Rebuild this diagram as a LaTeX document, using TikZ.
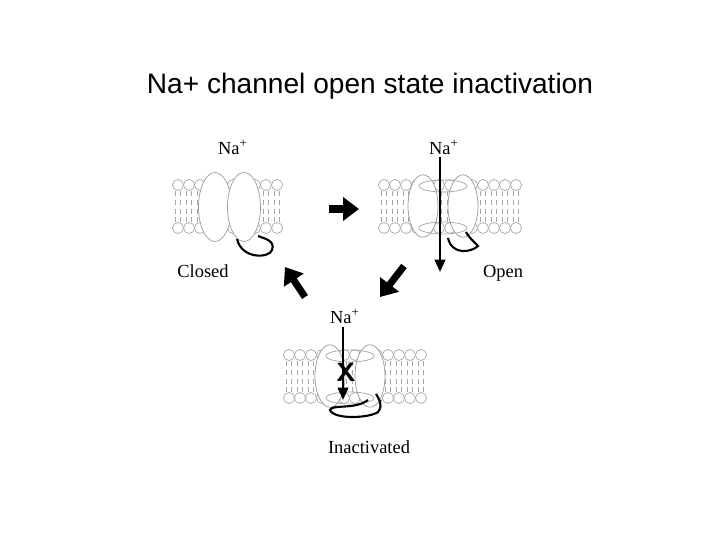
\documentclass[tikz,border=0pt]{standalone}
\usepackage{fontspec}
\setmainfont{Liberation Serif}
\newfontfamily\titlefont{Liberation Sans}
\usetikzlibrary{positioning}
\usetikzlibrary{arrows.meta}
\usetikzlibrary{shapes}
\tikzset{
  lbl/.style={font=\fontsize{10.5}{12}\selectfont},
  head/.style={draw=gray!70,fill=white,thin},
  tail/.style={draw=gray!70,densely dashed,very thin},
  half/.style={ellipse,draw=gray!80,fill=white,thin,minimum width=0.6cm,minimum height=1.25cm},
  gate/.style={line width=1.2pt,black},
  trans/.style={line width=4pt,-{Triangle[length=9pt,width=13pt]}},
  flux/.style={line width=1.3pt,-{Triangle[length=7pt,width=6pt]}}
}
\newcommand{\bilayer}[3]{% x0, x1, y of upper heads
  \pgfmathsetmacro{\nb}{int((#2-#1)/11)}
  \foreach \i in {0,...,\nb}{
    \pgfmathsetmacro{\hx}{#1+11*\i}
    \draw[tail] (\hx-2.5,#3+6) -- (\hx-2.5,#3+37) (\hx+2.5,#3+6) -- (\hx+2.5,#3+37);
    \draw[head] (\hx,#3) circle [radius=5.5];
    \draw[head] (\hx,#3+43) circle [radius=5.5];
  }
}
\begin{document}
\begin{tikzpicture}[x=0.02cm,y=-0.02cm]
\useasboundingbox (0,0) rectangle (720,540);

\node (title) at (370,86) {\titlefont\fontsize{16}{19}\selectfont Na+ channel open state inactivation};

% closed
\bilayer{178}{286}{185}
\node[half,minimum width=0.66cm,minimum height=1.38cm] (cl) at (215,207) {};
\node[half,minimum width=0.66cm,minimum height=1.38cm] (cr) at (244,207) {};
\draw[gate] (237,239) .. controls (242,260) and (270,258) .. (272,250) .. controls (276,240) and (262,238) .. (258,236);
\node[lbl] (naA) at (233,147) {Na\textsuperscript{+}};
\node[lbl] (closed) at (203,271) {Closed};

% open
\bilayer{384}{518}{185}
\node[half] (ol) at (423,206) {};
\node[half] (or) at (463,206) {};
\draw[gray!70,thin] (443,186) ellipse [x radius=24,y radius=6];
\draw[gray!70,thin] (443,228) ellipse [x radius=24,y radius=6];
\draw[gate] (448,238) .. controls (452,256) and (472,252) .. (478,246) .. controls (472,240) and (468,236) .. (466,232);
\node[lbl] (naB) at (444,147) {Na\textsuperscript{+}};
\coordinate (fbTop) at (440,157);
\coordinate (fbBot) at (440,272);
\draw[flux] (fbTop) -- (fbBot);
\node[lbl] (open) at (503,273) {Open};

% inactivated
\bilayer{289}{423}{355}
\node[half] (il) at (330,376) {};
\node[half] (ir) at (370,376) {};
\draw[gray!70,thin] (350,356) ellipse [x radius=24,y radius=6];
\draw[gray!70,thin] (350,398) ellipse [x radius=24,y radius=6];
\draw[gate] (368,400) .. controls (355,410) and (332,404) .. (330,410) .. controls (334,420) and (370,418) .. (378,412) .. controls (384,404) and (378,398) .. (376,394);
\node[lbl] (naC) at (345,316) {Na\textsuperscript{+}};
\coordinate (fcTop) at (343,327);
\coordinate (fcBot) at (343,400);
\draw[flux] (fcTop) -- (fcBot);
\node[font=\sffamily\bfseries\fontsize{15}{17}\selectfont] (block) at (346,372) {X};
\node[lbl] (inact) at (369,447) {Inactivated};

% transitions
\coordinate (s1a) at (329,209); \coordinate (s1b) at (359,209);
\coordinate (s2a) at (404,266); \coordinate (s2b) at (380,297);
\coordinate (s3a) at (305,297); \coordinate (s3b) at (285,267);
\draw[trans] (s1a) -- (s1b);
\draw[trans] (s2a) -- (s2b);
\draw[trans] (s3a) -- (s3b);
\end{tikzpicture}
\end{document}
